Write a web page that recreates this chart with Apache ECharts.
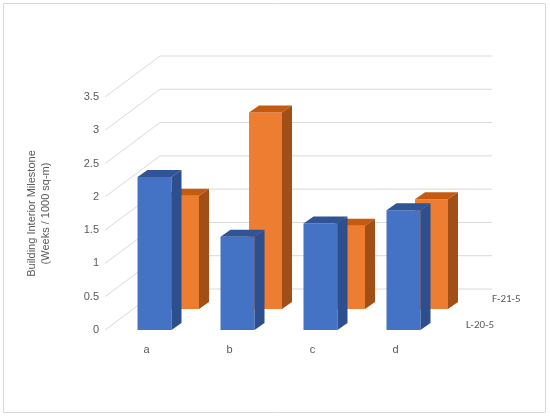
<!DOCTYPE html>
<html><head><meta charset="utf-8">
<script src="https://cdn.jsdelivr.net/npm/echarts@6/dist/echarts.min.js"></script>
<style>html,body{margin:0;padding:0;background:#fff}#c{width:550px;height:417px}</style>
</head><body><div id="c"></div>
<script>
const categories = ['a','b','c','d'];
const seriesNames = ['L-20-5','F-21-5'];
const frontValues = [2.3, 1.4, 1.6, 1.8];
const backValues = [1.7, 2.95, 1.25, 1.65];
const yTicks = [0,0.5,1,1.5,2,2.5,3,3.5];

const chart = echarts.init(document.getElementById('c'));
const DX = 28, DY = -21, WX = 55, WY = -41, SX = 10, SY = -7;

function bar(api, shift, w, cols, dx, dy){
  const i = api.value(0), v = api.value(1);
  const top = api.coord([i, v]), base = api.coord([i, 0]);
  const x0 = top[0] + shift - w/2 + dx, x1 = x0 + w;
  const yt = top[1] + dy, yb = base[1] + dy;
  return {type:'group', children:[
    {type:'rect', shape:{x:x0, y:yt, width:w, height:yb-yt}, style:{fill:cols[0]}},
    {type:'polygon', shape:{points:[[x0,yt],[x1,yt],[x1+SX,yt+SY],[x0+SX,yt+SY]]}, style:{fill:cols[1]}},
    {type:'polygon', shape:{points:[[x1,yt],[x1+SX,yt+SY],[x1+SX,yb+SY],[x1,yb]]}, style:{fill:cols[2]}}
  ]};
}

chart.setOption({
  animation:false,
  graphic:[
    {type:'rect', shape:{x:3.5,y:3.5,width:542,height:409}, style:{fill:'none', stroke:'#d9d9d9'}},
    {type:'text', left:492, top:294, style:{text:seriesNames[1], fill:'#595959', font:'11px Calibri, "Liberation Sans", sans-serif'}},
    {type:'text', left:466, top:320, style:{text:seriesNames[0], fill:'#595959', font:'11px Calibri, "Liberation Sans", sans-serif'}}
  ],
  grid:{left:105, right:113, top:97, bottom:87},
  xAxis:{type:'category', data:categories, axisLine:{show:false}, axisTick:{show:false},
    axisLabel:{color:'#595959', fontSize:11, margin:14}},
  yAxis:{type:'value', min:0, max:3.5, interval:0.5, splitLine:{show:false},
    axisLabel:{color:'#595959', fontSize:11, padding:[12,0,0,0], margin:6},
    name:'Building Interior Milestone\n(Weeks / 1000 sq-m)', nameLocation:'middle', nameGap:52,
    nameRotate:90, nameTextStyle:{color:'#595959', fontSize:11, lineHeight:14}},
  series:[
    {type:'custom', data:yTicks.map(t=>[0,t]), z:1, renderItem:(p,api)=>{
      const cs = p.coordSys, y = api.coord([0, api.value(1)])[1], x = cs.x;
      return {type:'polyline', shape:{points:[[x,y],[x+WX,y+WY],[cs.x+cs.width+WX,y+WY]]},
        style:{stroke:'#d9d9d9', lineWidth:1, fill:'none'}};
    }},
    {type:'custom', name:seriesNames[1], z:2, data:backValues.map((v,i)=>[i,v]),
      renderItem:(p,api)=>bar(api, 8, 33, ['#ED7D31','#C55A11','#A14E17'], DX, DY)},
    {type:'custom', name:seriesNames[0], z:3, data:frontValues.map((v,i)=>[i,v]),
      renderItem:(p,api)=>bar(api, 8, 34, ['#4472C4','#2F5597','#2D4F8E'], 0, 0)}
  ]
});
</script></body></html>
